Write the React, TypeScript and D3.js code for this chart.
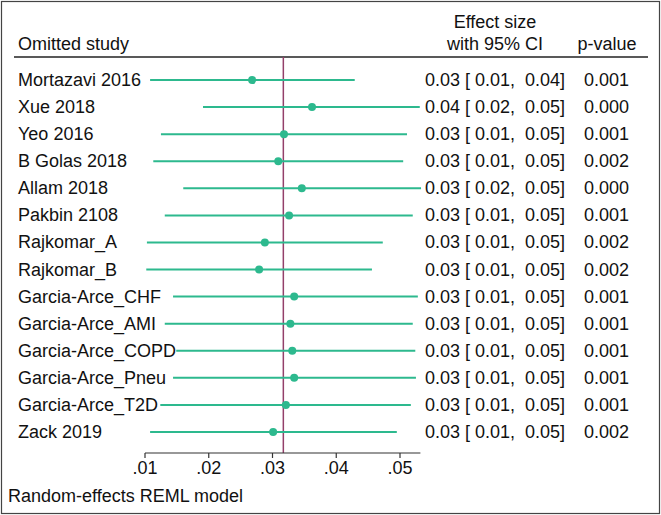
import React from "react";
import * as d3 from "d3";

const studies = [
  "Mortazavi 2016", "Xue 2018", "Yeo 2016", "B Golas 2018", "Allam 2018", "Pakbin 2108",
  "Rajkomar_A", "Rajkomar_B", "Garcia-Arce_CHF", "Garcia-Arce_AMI", "Garcia-Arce_COPD",
  "Garcia-Arce_Pneu", "Garcia-Arce_T2D", "Zack 2019",
];
const estimate = [0.0268, 0.0362, 0.0318, 0.0309, 0.0346, 0.0326, 0.0288, 0.0279, 0.0334, 0.0328, 0.0331, 0.0334, 0.0321, 0.0301];
const lower = [0.0108, 0.0191, 0.0125, 0.0113, 0.0160, 0.0131, 0.0103, 0.0102, 0.0144, 0.0131, 0.0149, 0.0144, 0.0124, 0.0108];
const upper = [0.0429, 0.0531, 0.0511, 0.0505, 0.0533, 0.0520, 0.0473, 0.0456, 0.0528, 0.0520, 0.0524, 0.0525, 0.0517, 0.0495];
const ciLabels = [
  "0.03 [ 0.01,  0.04]", "0.04 [ 0.02,  0.05]", "0.03 [ 0.01,  0.05]", "0.03 [ 0.01,  0.05]",
  "0.03 [ 0.02,  0.05]", "0.03 [ 0.01,  0.05]", "0.03 [ 0.01,  0.05]", "0.03 [ 0.01,  0.05]",
  "0.03 [ 0.01,  0.05]", "0.03 [ 0.01,  0.05]", "0.03 [ 0.01,  0.05]", "0.03 [ 0.01,  0.05]",
  "0.03 [ 0.01,  0.05]", "0.03 [ 0.01,  0.05]",
];
const pValues = ["0.001", "0.000", "0.001", "0.002", "0.000", "0.001", "0.002", "0.002", "0.001", "0.001", "0.001", "0.001", "0.001", "0.002"];
const overall = 0.0317;
const tickValues = [0.01, 0.02, 0.03, 0.04, 0.05];
const tickLabels = [".01", ".02", ".03", ".04", ".05"];
const axisMax = 0.0532;

const W = 661, H = 515;
const font = "'Liberation Sans', Arial, sans-serif";
const green = "#2db98e";
const maroon = "#94406a";
const fs = 18;

export default function App() {
  const x = d3.scaleLinear([0.01, 0.05], [145, 400]);
  const y = d3.scalePoint(studies, [80, 432]);
  const axisY = 453;

  return (
    <svg width={W} height={H} style={{ position: "absolute", left: 0, top: 0 }} fontFamily={font}>
      <rect x={0} y={0} width={W} height={H} fill="#fff" />
      <rect x={1.5} y={1.5} width={W - 3} height={H - 3} fill="none" stroke="#444" strokeWidth={1.2} />

      {/* header */}
      <g fontSize={fs} fill="#111">
        <text x={18} y={50}>Omitted study</text>
        <text x={495} y={28} textAnchor="middle">Effect size</text>
        <text x={495} y={50} textAnchor="middle">with 95% CI</text>
        <text x={607} y={50} textAnchor="middle">p-value</text>
      </g>
      <line x1={14} x2={648} y1={57} y2={57} stroke="#222" strokeWidth={1.6} />

      {/* reference line */}
      <line x1={x(overall)} x2={x(overall)} y1={57} y2={axisY} stroke={maroon} strokeWidth={1.5} />

      {/* CIs */}
      {studies.map((s, i) => (
        <g key={s}>
          <line x1={x(lower[i])} x2={x(upper[i])} y1={y(s)!} y2={y(s)!} stroke={green} strokeWidth={2} />
          <circle cx={x(estimate[i])} cy={y(s)!} r={4} fill={green} />
        </g>
      ))}

      {/* labels */}
      <g fontSize={fs} fill="#111" dominantBaseline="central">
        {studies.map((s, i) => (
          <g key={s}>
            <text x={18} y={y(s)!}>{s}</text>
            <text x={425} y={y(s)!} style={{ whiteSpace: "pre" }}>{ciLabels[i]}</text>
            <text x={584} y={y(s)!}>{pValues[i]}</text>
          </g>
        ))}
      </g>

      {/* axis */}
      <line x1={x(0.01)} x2={x(axisMax)} y1={axisY} y2={axisY} stroke="#333" strokeWidth={1.2} />
      {tickValues.map((t, i) => (
        <g key={t} transform={`translate(${x(t)},${axisY})`}>
          <line y1={0} y2={5} stroke="#333" strokeWidth={1.2} />
          <text y={21} textAnchor="middle" fontSize={fs} fill="#111">{tickLabels[i]}</text>
        </g>
      ))}

      <text x={8} y={502} fontSize={fs} fill="#111">Random-effects REML model</text>
    </svg>
  );
}
